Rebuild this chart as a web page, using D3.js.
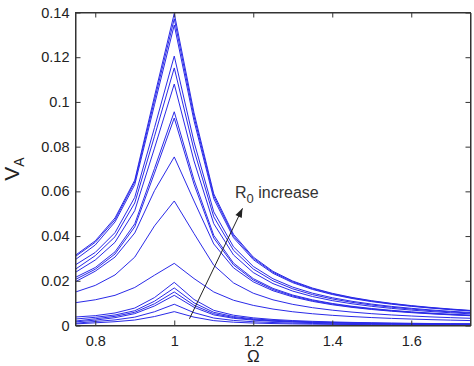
<!DOCTYPE html>
<html><head><meta charset="utf-8">
<script src="https://cdn.jsdelivr.net/npm/d3@7"></script>
<style>html,body{margin:0;padding:0;background:#fff;}svg{display:block;}</style>
</head><body><svg id="c" width="474" height="366"></svg>
<script>
const omega = [0.75,0.80,0.85,0.90,0.95,1.00,1.05,1.10,1.15,1.20,1.25,1.30,1.35,1.40,1.45,1.50,1.55,1.60,1.65,1.70,1.75];
const v01 = [0.03145,0.03786,0.04811,0.06500,0.10255,0.1396,0.09514,0.05888,0.04078,0.03061,0.02422,0.01988,0.01675,0.01439,0.01255,0.01108,0.00990,0.00891,0.00807,0.00736,0.00674];
const v02 = [0.03091,0.03721,0.04728,0.06420,0.10079,0.1372,0.09350,0.05787,0.04008,0.03009,0.02380,0.01954,0.01646,0.01415,0.01233,0.01089,0.00973,0.00875,0.00793,0.00723,0.00663];
const v03 = [0.02950,0.03600,0.04631,0.06300,0.09873,0.1344,0.09159,0.05669,0.03926,0.02947,0.02332,0.01914,0.01613,0.01386,0.01208,0.01067,0.00953,0.00857,0.00777,0.00708,0.00649];
const v04 = [0.02715,0.03268,0.04152,0.05732,0.08852,0.1205,0.08212,0.05083,0.03520,0.02643,0.02091,0.01716,0.01446,0.01242,0.01083,0.00957,0.00854,0.00769,0.00696,0.00635,0.00582];
const v05 = [0.02520,0.03124,0.03970,0.05480,0.08463,0.1152,0.07851,0.04859,0.03365,0.02526,0.01999,0.01640,0.01382,0.01188,0.01036,0.00915,0.00817,0.00735,0.00666,0.00607,0.00556];
const v06 = [0.02380,0.02929,0.03722,0.05138,0.07934,0.1080,0.07360,0.04555,0.03155,0.02368,0.01874,0.01538,0.01296,0.01113,0.00971,0.00858,0.00766,0.00689,0.00624,0.00569,0.00522];
const v07 = [0.02154,0.02593,0.03294,0.04548,0.07023,0.0956,0.06515,0.04032,0.02792,0.02097,0.01659,0.01361,0.01147,0.00986,0.00859,0.00759,0.00678,0.00610,0.00553,0.00504,0.00462];
const v08 = [0.02060,0.02517,0.03198,0.04414,0.06817,0.0928,0.06324,0.03914,0.02711,0.02035,0.01610,0.01321,0.01114,0.00957,0.00834,0.00737,0.00658,0.00592,0.00536,0.00489,0.00448];
const v09 = [0.01960,0.02429,0.03060,0.04140,0.06032,0.0754,0.05571,0.03648,0.02579,0.01954,0.01554,0.01279,0.01079,0.00928,0.00811,0.00716,0.00639,0.00575,0.00522,0.00476,0.00437];
const v10 = [0.01497,0.01794,0.02261,0.03058,0.04456,0.0557,0.04115,0.02695,0.01905,0.01444,0.01148,0.00945,0.00797,0.00686,0.00599,0.00529,0.00472,0.00425,0.00385,0.00351,0.00323];
const v11 = [0.01020,0.01150,0.01350,0.01700,0.02250,0.0278,0.02100,0.01500,0.01130,0.00900,0.00735,0.00615,0.00525,0.00455,0.00400,0.00355,0.00318,0.00288,0.00262,0.00240,0.00220];
const v12 = [0.00380,0.00440,0.00560,0.00780,0.01249,0.0193,0.01165,0.00678,0.00460,0.00343,0.00270,0.00221,0.00186,0.00160,0.00139,0.00123,0.00110,0.00099,0.00089,0.00081,0.00075];
const v13 = [0.00290,0.00368,0.00470,0.00661,0.01087,0.0168,0.01014,0.00590,0.00401,0.00298,0.00235,0.00193,0.00162,0.00139,0.00121,0.00107,0.00095,0.00086,0.00078,0.00071,0.00065];
const v14 = [0.00200,0.00300,0.00410,0.00591,0.00971,0.0150,0.00906,0.00527,0.00358,0.00266,0.00210,0.00172,0.00145,0.00124,0.00108,0.00096,0.00085,0.00077,0.00069,0.00063,0.00058];
const v15 = [0.00160,0.00240,0.00350,0.00531,0.00874,0.0135,0.00815,0.00474,0.00322,0.00240,0.00189,0.00155,0.00130,0.00112,0.00097,0.00086,0.00077,0.00069,0.00063,0.00057,0.00052];
const v16 = [0.00100,0.00180,0.00250,0.00374,0.00615,0.0095,0.00574,0.00334,0.00227,0.00169,0.00133,0.00109,0.00092,0.00079,0.00069,0.00061,0.00054,0.00049,0.00044,0.00040,0.00037];
const v17 = [0.00070,0.00120,0.00170,0.00244,0.00401,0.0062,0.00374,0.00218,0.00148,0.00110,0.00087,0.00071,0.00060,0.00051,0.00045,0.00039,0.00035,0.00032,0.00029,0.00026,0.00024];
const series = [v01,v02,v03,v04,v05,v06,v07,v08,v09,v10,v11,v12,v13,v14,v15,v16,v17];
const xTicks = [0.8,1,1.2,1.4,1.6];
const xTickLabels = ["0.8","1","1.2","1.4","1.6"];
const yTicks = [0,0.02,0.04,0.06,0.08,0.1,0.12,0.14];
const yTickLabels = ["0","0.02","0.04","0.06","0.08","0.1","0.12","0.14"];
const arrowFrom = [1.0385, 0.0030];
const arrowTo = [1.1728, 0.0524];

const svg = d3.select("#c");
const L = 75.5, R = 470.5, T = 12.5, B = 325.5;
const x = d3.scaleLinear().domain([0.75,1.75]).range([L,R]);
const y = d3.scaleLinear().domain([0,0.14]).range([B,T]);
const font = "Arial, 'Liberation Sans', Helvetica, sans-serif";

const line = d3.line().x((d,i)=>x(omega[i])).y(d=>y(d));
svg.append("g").selectAll("path").data(series).join("path")
  .attr("d", line).attr("fill","none").attr("stroke","#2a2ae8").attr("stroke-width",1);

// axes
const gx = svg.append("g").attr("transform",`translate(0,${B})`)
  .call(d3.axisBottom(x).tickValues(xTicks).tickFormat((d,i)=>xTickLabels[i]).tickSizeInner(-5).tickSizeOuter(0).tickPadding(10));
const gxt = svg.append("g").attr("transform",`translate(0,${T})`)
  .call(d3.axisTop(x).tickValues(xTicks).tickFormat("").tickSizeInner(-5).tickSizeOuter(0));
const gy = svg.append("g").attr("transform",`translate(${L},0)`)
  .call(d3.axisLeft(y).tickValues(yTicks).tickFormat((d,i)=>yTickLabels[i]).tickSizeInner(-5).tickSizeOuter(0).tickPadding(6));
const gyr = svg.append("g").attr("transform",`translate(${R},0)`)
  .call(d3.axisRight(y).tickValues(yTicks).tickFormat("").tickSizeInner(-5).tickSizeOuter(0));
[gx,gxt,gy,gyr].forEach(g=>{
  g.selectAll("path").attr("stroke","#333");
  g.selectAll("line").attr("stroke","#333");
  g.selectAll("text").attr("font-family",font).attr("font-size",14.5).attr("fill","#222");
});
svg.append("rect").attr("x",L).attr("y",T).attr("width",R-L).attr("height",B-T)
  .attr("fill","none").attr("stroke","#333").attr("stroke-width",1);

// axis labels
svg.append("text").attr("transform",`translate(19,${(T+B)/2}) rotate(-90)`)
  .attr("text-anchor","middle").attr("font-family",font).attr("font-size",21).attr("fill","#222")
  .html('V<tspan font-size="14" dy="5">A</tspan>');
svg.append("text").attr("x",x(1.2)).attr("y",362).attr("text-anchor","middle")
  .attr("font-family",font).attr("font-size",17).attr("fill","#222").text("Ω");

// annotation arrow
const x1 = x(arrowFrom[0]), y1 = y(arrowFrom[1]), x2 = x(arrowTo[0]), y2 = y(arrowTo[1]);
svg.append("line").attr("x1",x1).attr("y1",y1).attr("x2",x2).attr("y2",y2)
  .attr("stroke","#222").attr("stroke-width",1);
const ang = Math.atan2(y2-y1, x2-x1), ah = 9, aw = 3.5;
const bx = x2 - ah*Math.cos(ang), by = y2 - ah*Math.sin(ang);
svg.append("path").attr("d",`M${x2},${y2}L${bx - aw*Math.sin(ang)},${by + aw*Math.cos(ang)}L${bx + aw*Math.sin(ang)},${by - aw*Math.cos(ang)}Z`)
  .attr("fill","#222");
svg.append("text").attr("x",235).attr("y",198).attr("font-family",font).attr("font-size",16).attr("fill","#333")
  .html('R<tspan font-size="13" dy="5">0</tspan><tspan dy="-5"> increase</tspan>');
</script></body></html>
